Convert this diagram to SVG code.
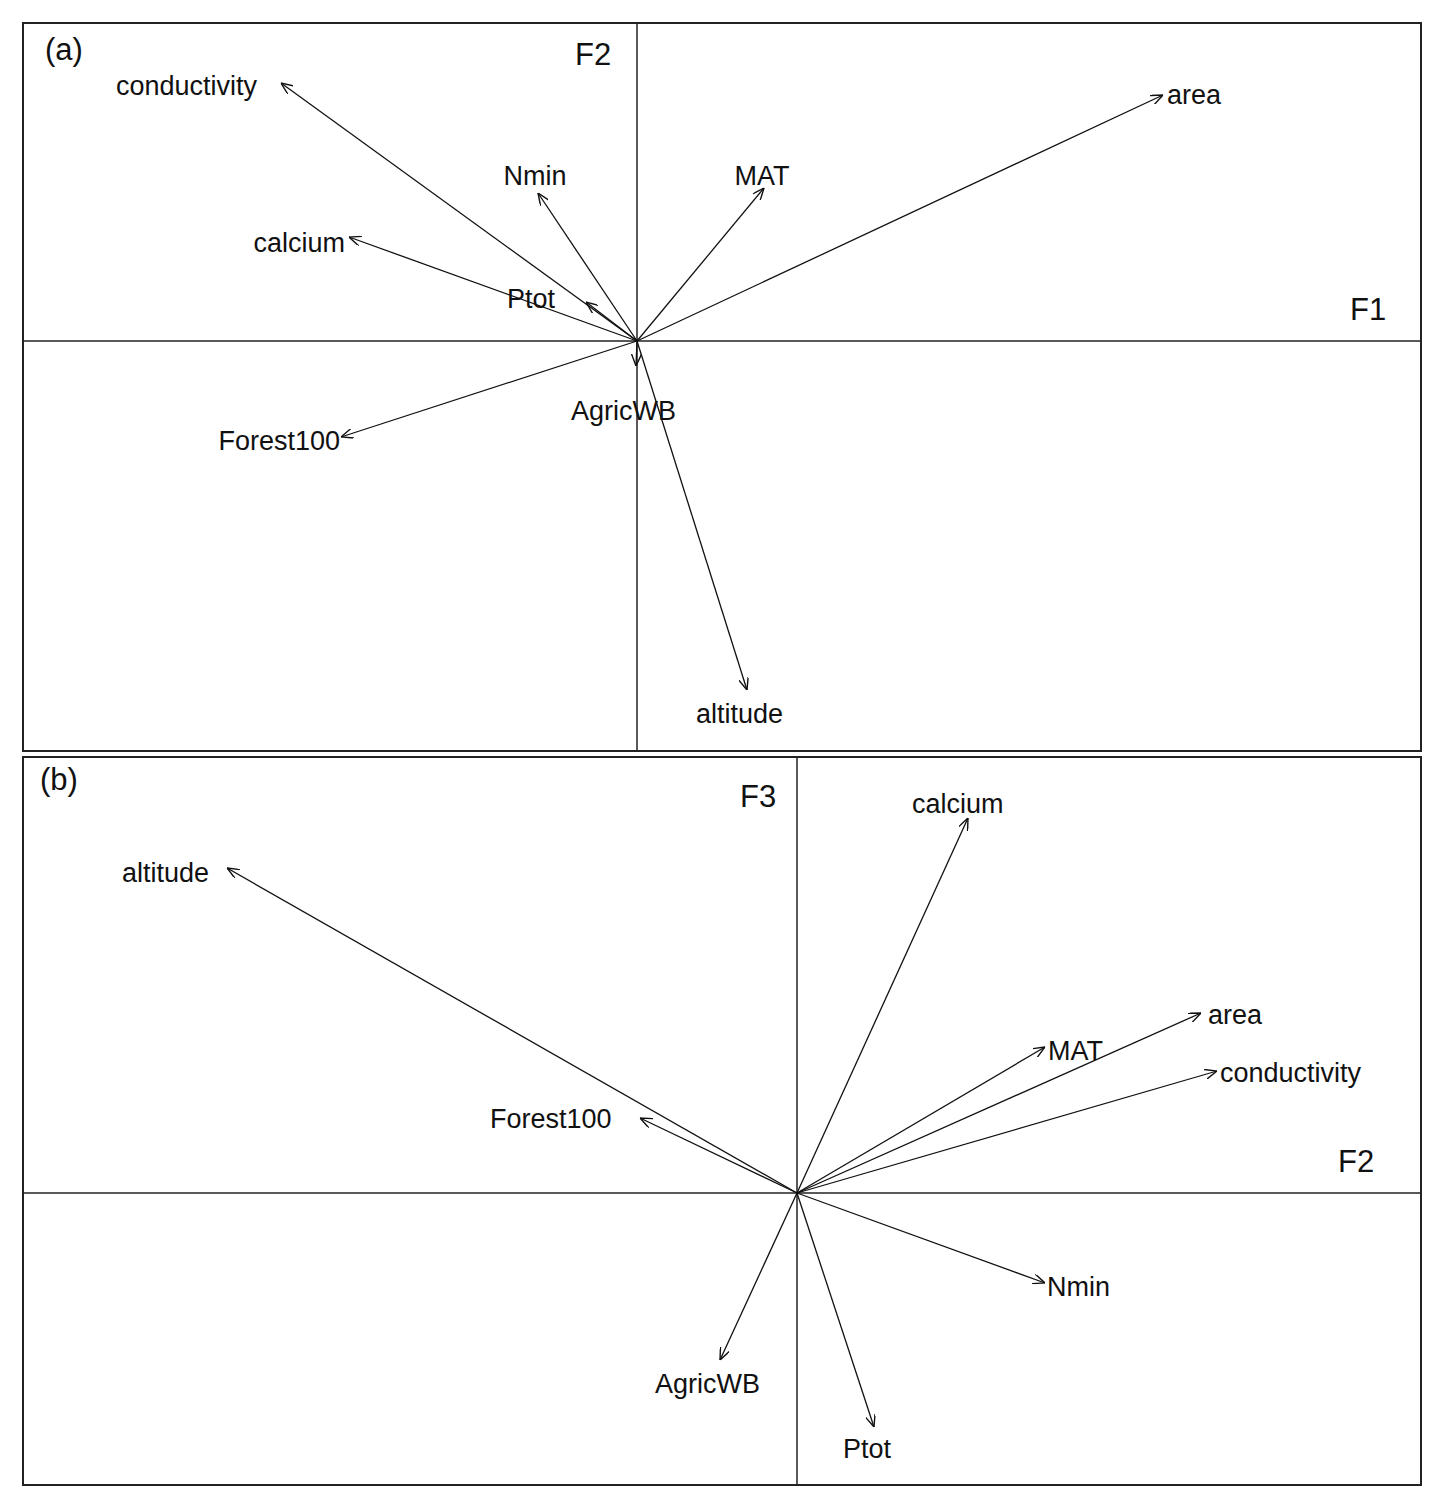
<svg xmlns="http://www.w3.org/2000/svg" width="1445" height="1491" viewBox="0 0 1445 1491">
<style>
.box{fill:none;stroke:#222;stroke-width:2}
.ax{stroke:#222;stroke-width:1.5}
.v{stroke:#111;stroke-width:1.3;fill:none;marker-end:url(#ah)}
text{font-family:"Liberation Sans",Arial,sans-serif;font-size:27px;fill:#111}
.big{font-size:31px}
</style>
<defs>
<marker id="ah" viewBox="0 0 12 10" refX="12" refY="5" markerWidth="12" markerHeight="10" markerUnits="userSpaceOnUse" orient="auto">
<path d="M0,0 L12,5 L0,10" fill="none" stroke="#111" stroke-width="1.4"/>
</marker>
</defs>
<rect width="1445" height="1491" fill="#fff"/>
<g id="panel-a">
<rect class="box" x="23" y="23" width="1398" height="728"/>
<line class="ax" x1="637" y1="23" x2="637" y2="751"/>
<line class="ax" x1="23" y1="341" x2="1421" y2="341"/>
<text class="big" x="45" y="60">(a)</text>
<text class="big" x="575" y="65">F2</text>
<text class="big" x="1350" y="320">F1</text>
</g>
<g id="connectors-a">
<line class="v" x1="637" y1="341" x2="281" y2="83"/>
<line class="v" x1="637" y1="341" x2="538" y2="193"/>
<line class="v" x1="637" y1="341" x2="764" y2="188"/>
<line class="v" x1="637" y1="341" x2="1163" y2="95"/>
<line class="v" x1="637" y1="341" x2="349" y2="237"/>
<line class="v" x1="637" y1="341" x2="586" y2="302"/>
<line class="v" x1="637" y1="341" x2="341" y2="437"/>
<line class="v" x1="637" y1="341" x2="636" y2="366"/>
<line class="v" x1="637" y1="341" x2="747" y2="690"/>
</g>
<g id="labels-a">
<text x="116" y="95">conductivity</text>
<text x="535" y="185" text-anchor="middle">Nmin</text>
<text x="762" y="185" text-anchor="middle">MAT</text>
<text x="1167" y="104">area</text>
<text x="345" y="252" text-anchor="end">calcium</text>
<text x="507" y="308">Ptot</text>
<text x="340" y="450" text-anchor="end">Forest100</text>
<text x="571" y="420">AgricWB</text>
<text x="696" y="723">altitude</text>
</g>
<g id="panel-b">
<rect class="box" x="23" y="757" width="1398" height="728"/>
<line class="ax" x1="797" y1="757" x2="797" y2="1485"/>
<line class="ax" x1="23" y1="1193" x2="1421" y2="1193"/>
<text class="big" x="40" y="790">(b)</text>
<text class="big" x="740" y="807">F3</text>
<text class="big" x="1338" y="1172">F2</text>
</g>
<g id="connectors-b">
<line class="v" x1="797" y1="1193" x2="227" y2="868"/>
<line class="v" x1="797" y1="1193" x2="968" y2="818"/>
<line class="v" x1="797" y1="1193" x2="640" y2="1118"/>
<line class="v" x1="797" y1="1193" x2="1045" y2="1047"/>
<line class="v" x1="797" y1="1193" x2="1201" y2="1013"/>
<line class="v" x1="797" y1="1193" x2="1217" y2="1071"/>
<line class="v" x1="797" y1="1193" x2="1045" y2="1283"/>
<line class="v" x1="797" y1="1193" x2="720" y2="1360"/>
<line class="v" x1="797" y1="1193" x2="874" y2="1427"/>
</g>
<g id="labels-b">
<text x="122" y="882">altitude</text>
<text x="912" y="813">calcium</text>
<text x="490" y="1128">Forest100</text>
<text x="1048" y="1060">MAT</text>
<text x="1208" y="1024">area</text>
<text x="1220" y="1082">conductivity</text>
<text x="1047" y="1296">Nmin</text>
<text x="655" y="1393">AgricWB</text>
<text x="843" y="1458">Ptot</text>
</g>
</svg>
